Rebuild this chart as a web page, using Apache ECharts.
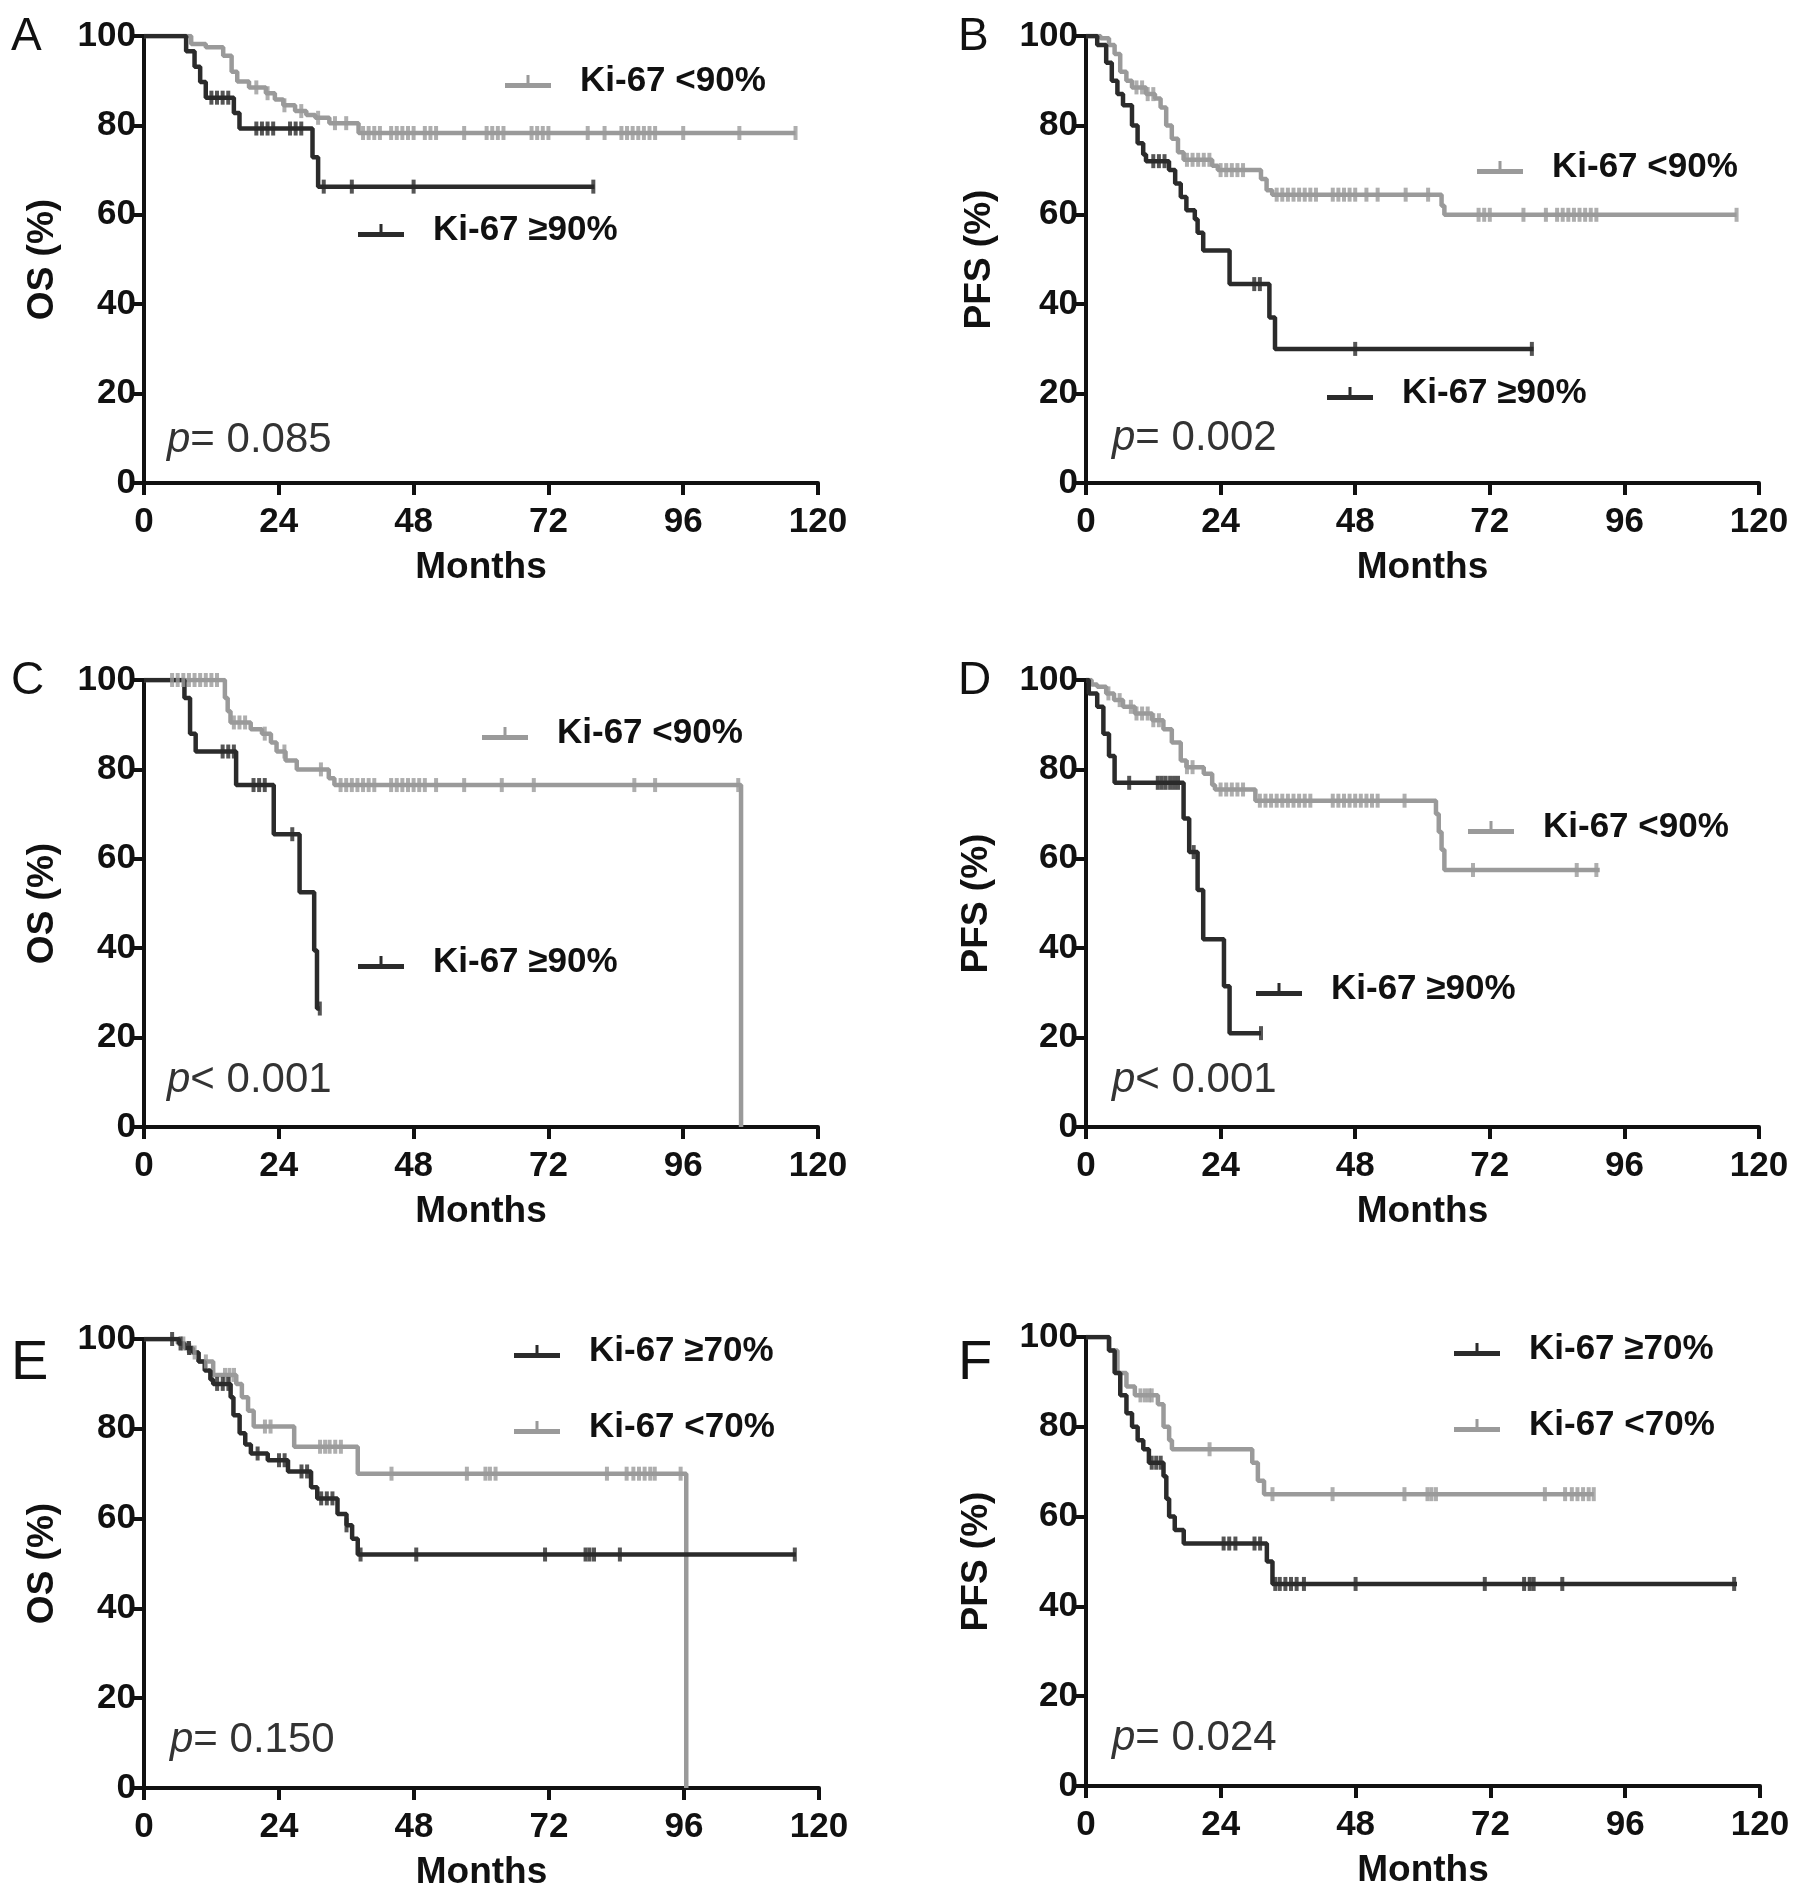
<!DOCTYPE html>
<html>
<head>
<meta charset="utf-8">
<script src="https://cdn.jsdelivr.net/npm/echarts@6/dist/echarts.min.js"></script>
<style>
html,body{margin:0;padding:0;background:#fff;}
#chart{width:1795px;height:1898px;}
</style>
</head>
<body>
<div id="chart"></div>
<script>
// ---------------- DATA ----------------
const xTicks = [0, 24, 48, 72, 96, 120];
const yTicks = [0, 20, 40, 60, 80, 100];
const panelLetters = ['A', 'B', 'C', 'D', 'E', 'F'];
const yTitles = ['OS (%)', 'PFS (%)', 'OS (%)', 'PFS (%)', 'OS (%)', 'PFS (%)'];
const pLabels = [['p', '= 0.085'], ['p', '= 0.002'], ['p', '< 0.001'], ['p', '< 0.001'], ['p', '= 0.150'], ['p', '= 0.024']];
const lowNames = ['Ki-67 <90%', 'Ki-67 <90%', 'Ki-67 <90%', 'Ki-67 <90%', 'Ki-67 <70%', 'Ki-67 <70%'];
const highNames = ['Ki-67 ≥90%', 'Ki-67 ≥90%', 'Ki-67 ≥90%', 'Ki-67 ≥90%', 'Ki-67 ≥70%', 'Ki-67 ≥70%'];

// Panel A (OS, cut-off 90%)
const aLow = [[0,100],[5.3,100],[8.4,98.2],[11,97.5],[14.1,95.6],[15.6,92],[16.6,89.8],[18.7,88.5],[21.7,87.2],[23.3,85.8],[24.8,84.5],[26.9,83.2],[28.9,82.3],[30.5,81.7],[33,80.5],[38.2,78.3],[116,78.3]];
const aLowCens = [20,22,25,28,31,34,36,39,40,41,42,44,45,46,47,48,50,51,52,57,61,62,63,64,69,70,71,72,79,82,85,86,87,88,89,90,91,96,106,116];
const aHigh = [[0,100],[7.5,96.6],[9,93.1],[10,89.7],[11,86.2],[16,82.8],[17,79.3],[30,72.9],[31,66.3],[80.2,66.3]];
const aHighCens = [12,13,14,15,20,21,22,23,26,27,28,32,37,48,80];

// Panel B (PFS, cut-off 90%)
const bLow = [[0,100],[2.6,99.5],[4.1,98],[5.1,96],[6.1,92],[7.2,90],[8.2,88.5],[10.7,87],[12.3,86],[13.3,84],[14.3,80],[15.3,77],[16.4,74],[17.4,72.3],[22.5,71],[23.5,70],[31.2,68],[32.2,65.5],[33.2,64.5],[63.4,62],[63.9,60],[116,60]];
const bLowCens = [9,10,11,12,18,19,20,21,22,24,25,26,27,28,34,35,36,37,38,39,40,41,44,45,46,47,48,50,52,57,61,70,71,72,78,82,84,85,86,87,88,89,90,91,116];
const bHigh = [[0,100],[2,98],[3.6,94],[4.6,90],[5.6,87],[6.6,84.5],[8.2,80],[9.2,76],[10.2,73.5],[10.7,72],[14.8,70],[15.9,67],[16.9,64],[17.9,61],[19.4,59],[19.9,56],[20.9,52],[25.6,44.5],[32.7,37],[33.7,30],[79.8,30]];
const bHighCens = [12,13,14,30,31,48,79.5];

// Panel C (OS, cut-off 90%)
const cLow = [[0,100],[14.4,96],[14.9,93],[15.4,90.5],[19,89],[21,88],[22.6,86],[23.6,84],[25.2,82],[27.2,80],[32.9,78],[33.9,76.5],[106.3,0]];
const cLowCens = [5,6,7,8,9,10,11,12,13,16,17,18,21.5,25,31.5,35,36,37,38,39,40,41,44,45,46,47,48,49,50,52,57,63.7,69.4,87.3,91,105.8];
const cHigh = [[0,100],[7.2,96],[8.2,88],[9.2,84],[16.4,76.5],[23.1,65.5],[27.7,52.5],[30.3,39.5],[30.8,26.5],[31.3,26.5]];
const cHighCens = [14,15,16,19.5,20.5,21.5,26.4,31.3];

// Panel D (PFS, cut-off 90%)
const dLow = [[0,100],[1,99],[2,98.5],[3.6,97],[5,95.5],[6.6,94],[8.7,92.5],[11.8,91],[13.8,89],[15.3,86],[16.9,82],[17.9,80.5],[21,79],[22.5,76.5],[23,75.5],[30.2,73],[62.4,70],[62.9,66],[63.4,62],[63.9,57.5],[91.6,57.5]];
const dLowCens = [4,6,8,9,10,11,12,13,18,19,24,25,26,27,28,31,32,33,34,35,36,37,38,39,40,44,45,46,47,48,49,50,51,52,56.8,69,87.5,91];
const dHigh = [[0,100],[0.5,97],[2,94],[3.1,88],[4.1,83],[5.1,77],[17.4,69],[18.4,61.5],[19.9,53],[20.9,42],[24.6,31.5],[25.6,21],[31.2,21]];
const dHighCens = [7.7,12.8,13.5,14.2,15,15.7,16.4,19.2,31.2];

// Panel E (OS, cut-off 70%)
const eLow = [[0,100],[6,99],[8,97],[9.7,95],[12.3,92],[16.4,90],[17.4,87],[18.5,84],[19.5,80.5],[26.7,76],[38,70],[96.4,0]];
const eLowCens = [7,9,11,14.4,15.2,16,21.5,22.5,31.3,32.2,33,34,35,44,57.4,60.7,61.5,62.5,82.3,85.8,87,88,89,90,90.8,95.4];
const eHigh = [[0,100],[6.2,99],[7.2,98],[8.7,97],[9.7,95],[10.8,93],[11.8,91],[12.3,90],[15.4,87],[15.9,83],[17,79],[18,76.5],[19,74.5],[22,73],[25.6,70.5],[29.7,67],[30.8,64.5],[34.4,61],[36,58.5],[37,55.5],[38,52],[115.9,52]];
const eHighCens = [5,6.5,8,13,14,15,20.2,24,25,28,29,31.5,32.5,33.5,36,38.5,48.4,71.3,78.5,79.2,80,84.6,115.7];

// Panel F (PFS, cut-off 70%)
const fLow = [[0,100],[4.1,97],[5.6,92],[7.2,89],[8.7,87],[12.8,85],[13.8,80],[14.8,77],[15.3,75],[29.6,72],[30.6,68],[31.7,65],[90.4,65]];
const fLowCens = [9.7,10.5,11.2,11.7,22,33.2,43.9,56.7,60.8,61.5,62.3,81.7,85.3,86.5,87.5,88.5,89.5,90.4];
const fHigh = [[0,100],[4.1,97],[5.1,92],[6.1,87],[7.2,83],[8.2,80],[9.2,77],[10.2,75],[11.2,72],[13.8,69],[14.3,64],[14.8,60],[15.8,57],[17.4,54],[32.2,50],[33.2,45],[115.9,45]];
const fHighCens = [11.7,12.5,13.3,24.5,25.5,26.6,30,31,33.7,34.5,35.5,36.5,37.5,38.8,48,71,78,79,79.7,84.8,115.4];

const lowCurves = [aLow, bLow, cLow, dLow, eLow, fLow];
const lowCens = [aLowCens, bLowCens, cLowCens, dLowCens, eLowCens, fLowCens];
const highCurves = [aHigh, bHigh, cHigh, dHigh, eHigh, fHigh];
const highCens = [aHighCens, bHighCens, cHighCens, dHighCens, eHighCens, fHighCens];

// ---------------- LAYOUT / STYLE ----------------
const FONT = 'Liberation Sans, Arial, Helvetica, sans-serif';
const DARK = '#2b2b2b';
const GRAY = '#9a9a9a';
const grids = [
  {left:144, top:36, width:674, height:447},
  {left:1086, top:36, width:673, height:447},
  {left:144, top:680, width:674, height:447},
  {left:1086, top:680, width:673, height:447},
  {left:144, top:1339, width:675, height:449},
  {left:1086, top:1337, width:674, height:449}
];
const yNameGap = [83, 88, 83, 91, 83, 91];
const letterPos = [[11,14,46],[958,14,46],[11,658,46],[958,658,46],[11,1336,56],[958,1336,56]];
const pPos = [[167,419],[1112,417],[167,1059],[1112,1059],[170,1719],[1112,1717]];
// legend positions: [lowLeft, lowTop, highLeft, highTop]
const legendPos = [
  [505,64,358,213],
  [1477,150,1327,376],
  [482,716,358,945],
  [1468,810,1256,972],
  [514,1410,514,1334],
  [1454,1408,1454,1332]
];

function survAt(curve, t) {
  let s = curve[0][1];
  for (const p of curve) { if (p[0] <= t) s = p[1]; else break; }
  return s;
}

const chart = echarts.init(document.getElementById('chart'), null, {renderer:'canvas'});
const option = {
  backgroundColor:'#fff',
  animation:false,
  grid:[], xAxis:[], yAxis:[], series:[], legend:[], graphic:[]
};
const ICON = 'path://M0,8L46,8L46,13L0,13Z M21.5,0L24.5,0L24.5,8L21.5,8Z';

for (let i = 0; i < 6; i++) {
  option.grid.push(Object.assign({containLabel:false}, grids[i]));
  option.xAxis.push({
    type:'value', gridIndex:i, min:xTicks[0], max:xTicks[xTicks.length-1], interval:xTicks[1]-xTicks[0],
    axisLine:{show:true, onZero:false, lineStyle:{color:'#111', width:4}},
    axisTick:{show:true, length:12, lineStyle:{color:'#111', width:4}},
    axisLabel:{fontSize:35, fontWeight:'bold', color:'#111', fontFamily:FONT, margin:22},
    splitLine:{show:false},
    name:'Months', nameLocation:'middle', nameGap:66,
    nameTextStyle:{fontSize:37, fontWeight:'bold', color:'#111', fontFamily:FONT}
  });
  option.yAxis.push({
    type:'value', gridIndex:i, min:yTicks[0], max:yTicks[yTicks.length-1], interval:yTicks[1]-yTicks[0],
    axisLine:{show:true, onZero:false, lineStyle:{color:'#111', width:4}},
    axisTick:{show:true, length:11, lineStyle:{color:'#111', width:4}},
    axisLabel:{fontSize:35, fontWeight:'bold', color:'#111', fontFamily:FONT, margin:8},
    splitLine:{show:false},
    name:yTitles[i], nameLocation:'middle', nameGap:yNameGap[i], nameRotate:90,
    nameTextStyle:{fontSize:37, fontWeight:'bold', color:'#111', fontFamily:FONT}
  });
  // curves
  option.series.push({
    type:'line', name:lowNames[i], xAxisIndex:i, yAxisIndex:i, data:lowCurves[i], step:'end',
    showSymbol:false, color:GRAY, lineStyle:{color:GRAY, width:4.5}, z:2, silent:true
  });
  option.series.push({
    type:'line', name:highNames[i], xAxisIndex:i, yAxisIndex:i, data:highCurves[i], step:'end',
    showSymbol:false, color:DARK, lineStyle:{color:DARK, width:4.5}, z:3, silent:true
  });
  // censor marks
  option.series.push({
    type:'scatter', name:'cens-low-'+i, xAxisIndex:i, yAxisIndex:i,
    data:lowCens[i].map(t => [t, survAt(lowCurves[i], t)]),
    symbol:'rect', symbolSize:[4,14], itemStyle:{color:GRAY}, z:4, silent:true
  });
  option.series.push({
    type:'scatter', name:'cens-high-'+i, xAxisIndex:i, yAxisIndex:i,
    data:highCens[i].map(t => [t, survAt(highCurves[i], t)]),
    symbol:'rect', symbolSize:[4,14], itemStyle:{color:DARK}, z:5, silent:true
  });
  const lp = legendPos[i];
  const legBase = {
    orient:'horizontal', padding:0, itemWidth:46, itemHeight:14, icon:ICON, selectedMode:false,
    textStyle:{fontSize:35, fontWeight:'bold', color:'#111', fontFamily:FONT, lineHeight:34, padding:[0,0,0,24]}
  };
  option.legend.push(Object.assign({}, legBase, {data:[lowNames[i]], left:lp[0], top:lp[1]}));
  option.legend.push(Object.assign({}, legBase, {data:[highNames[i]], left:lp[2], top:lp[3]}));
  // panel letter
  option.graphic.push({
    type:'text', left:letterPos[i][0], top:letterPos[i][1],
    style:{text:panelLetters[i], fontSize:letterPos[i][2], fontFamily:FONT, fill:'#111'}
  });
  // p value
  option.graphic.push({
    type:'text', left:pPos[i][0], top:pPos[i][1],
    style:{
      text:'{i|' + pLabels[i][0] + '}{n|' + pLabels[i][1] + '}',
      rich:{
        i:{fontSize:42, fontStyle:'italic', fontFamily:FONT, fill:'#333'},
        n:{fontSize:42, fontFamily:FONT, fill:'#333'}
      }
    }
  });
}
chart.setOption(option);
</script>
</body>
</html>
